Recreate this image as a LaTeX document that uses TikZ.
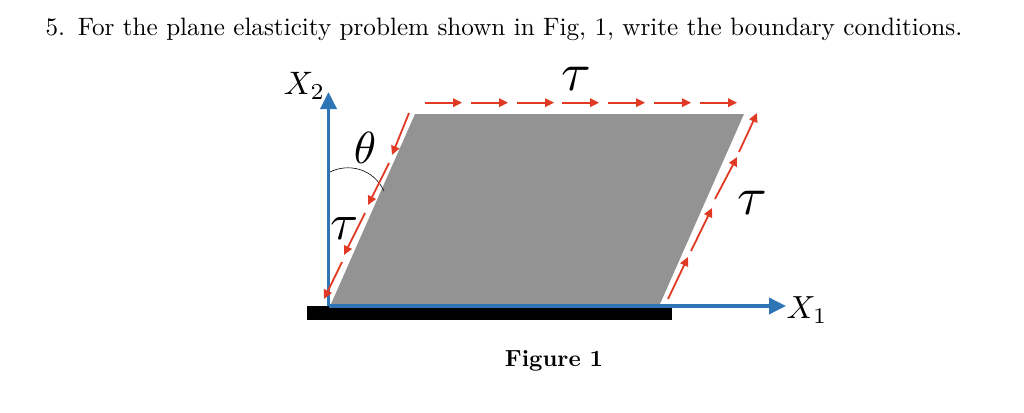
\documentclass[tikz,border=0pt]{standalone}
\usetikzlibrary{arrows.meta}
\definecolor{axisblue}{RGB}{46,117,182}
\definecolor{stressred}{RGB}{224,58,36}
\definecolor{plategray}{RGB}{147,147,147}
\tikzset{
  px/.style={x=1pt,y=-1pt},
  axisline/.style={draw=axisblue,line width=3.5pt,-{Triangle[length=17pt,width=16pt]}},
  stress/.style={draw=stressred,line width=1.8pt,-{Triangle[length=9pt,width=8.5pt]}},
  label/.style={inner sep=0pt,text=black,anchor=center}
}
\begin{document}
\begin{tikzpicture}[px]
\useasboundingbox (0,0) rectangle (1024,412);
% plate
\fill[plategray] (331,304) -- (415,114) -- (744,114) -- (660,304) -- cycle;
% fixed support
\fill[black] (307,306) rectangle (672,320);
% axes
\coordinate (O) at (328.5,306);
\coordinate (Y) at (328.5,92);
\coordinate (Z) at (786,306);
\draw[axisline] (O) -- (Y);
\draw[axisline] (O) -- (Z);
% angle
\draw[black,line width=0.6pt] (330,172) .. controls (348,163) and (373,168) .. (384,191);
% top stress
\foreach \s in {425,471,517,562,608,654,700}
  \draw[stress] (\s,102.7) -- ++(37,0);
% left stress
\foreach \a/\b/\c/\d in {409/113/392/155,389/163/368/205,365/213/344/255,342/262/324/299}
  \draw[stress] (\a,\b) -- (\c,\d);
% right stress
\foreach \a/\b/\c/\d in {668/299/688/257,691/251/712/208,715/199/737/157,739/152/757/113}
  \draw[stress] (\a,\b) -- (\c,\d);
% labels
\node[label,scale=2.515] (title) at (504,29) {5.\hspace{5pt}For the plane elasticity problem shown in Fig, 1, write the boundary conditions.};
\node[label,scale=3.25] (x2) at (304.5,86) {$X_2$};
\node[label,scale=3.2] (x1) at (807,310) {$X_1$};
\node[label,scale=4.5] (theta) at (365,148) {$\theta$};
\node[label,scale=5.1] (tau1) at (345,229) {$\tau$};
\node[label,scale=5.4] (tau2) at (576,79) {$\tau$};
\node[label,scale=5.4] (tau3) at (752,203) {$\tau$};
\node[label,scale=2.33] (fig) at (554,361) {\bfseries Figure 1};
\end{tikzpicture}
\end{document}
